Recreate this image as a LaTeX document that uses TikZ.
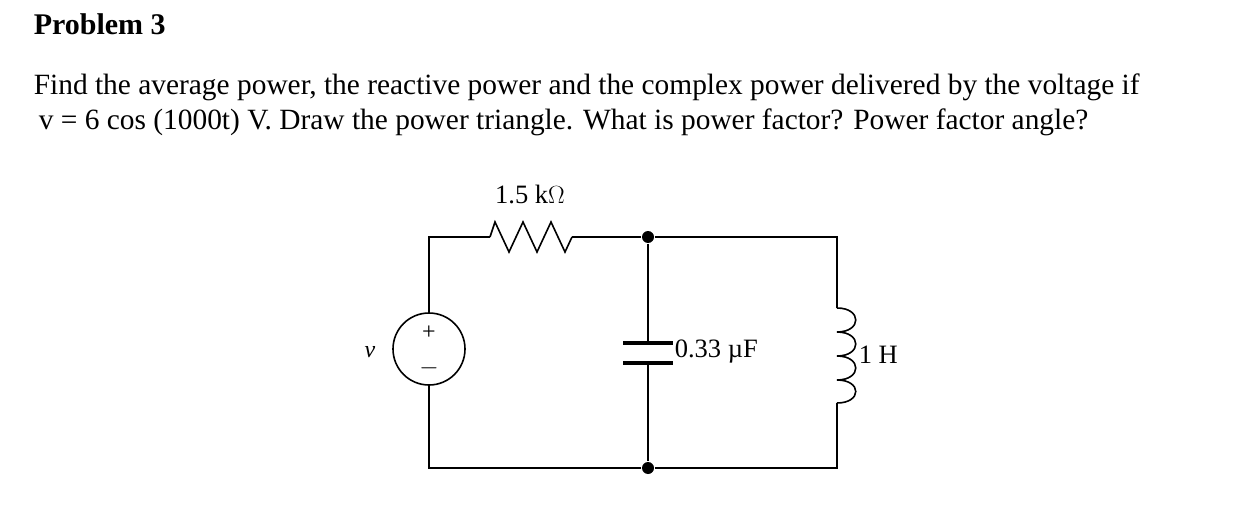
\documentclass[tikz,border=0pt]{standalone}
\usepackage{fontspec}
\setmainfont{Liberation Serif}
\begin{document}
\begin{tikzpicture}[x=1pt,y=-1pt,line width=1.6pt,
  txt/.style={font=\fontsize{29.4}{34}\selectfont,inner sep=0pt},
  lbl/.style={font=\fontsize{26.5}{30}\selectfont,inner sep=0pt},
  dot/.style={circle,fill,inner sep=0pt,minimum size=12pt}]
\useasboundingbox (0,0) rectangle (1240,532);
\fill[white] (0,0) rectangle (1240,532);
\node[txt,anchor=base west,font=\fontsize{30}{34}\selectfont\bfseries] (title) at (33,35) {Problem 3};
\node[txt,anchor=base west] (l1) at (33,95) {Find the average power, the reactive power and the complex power delivered by the voltage if};
\node[txt,anchor=base west] (l2) at (38,130) {v = 6 cos (1000t) V. Draw the power triangle. What is power factor? Power factor angle?};
% nodes
\coordinate (tl) at (429,237);
\coordinate (r1) at (490,237);
\coordinate (r2) at (572,237);
\node[dot] (jt) at (648,237) {};
\coordinate (tr) at (837,237);
\coordinate (bl) at (429,468);
\node[dot] (jb) at (648,468) {};
\coordinate (br) at (837,468);
\node[circle,draw,minimum size=72pt,inner sep=0pt] (src) at (429,349) {};
\node[font=\fontsize{24}{24}\selectfont] at (429,333) {+};
\node[font=\fontsize{24}{24}\selectfont] at (429,368) {$-$};
\node[lbl,font=\fontsize{24}{26}\selectfont\itshape] at (370,352) {v};
\coordinate (c1) at (648,343);
\coordinate (c2) at (648,363);
\coordinate (i1) at (837,308);
\coordinate (i2) at (837,403);
% wires
\draw (src.north) -- (tl) -- (r1);
\draw (r1) -- (495,222) -- (509,252) -- (523,222) -- (537,252) -- (551,222) -- (565,252) -- (r2);
\draw (r2) -- (jt) -- (tr) -- (i1);
\draw (i2) -- (br) -- (jb) -- (bl) -- (src.south);
\draw (jt) -- (c1);
\draw (jb) -- (c2);
\draw[line width=4pt] (623,343) -- (673,343);
\draw[line width=4pt] (623,363) -- (673,363);
\draw (i1) .. controls (862,308) and (862,332) .. (837,332)
  .. controls (862,332) and (862,356) .. (837,356)
  .. controls (862,356) and (862,380) .. (837,380)
  .. controls (862,380) and (862,403) .. (i2);
\node[lbl,anchor=center] at (530,194) {1.5 k$\Omega$};
\node[lbl,anchor=west] at (674,352) {0.33 µF};
\node[lbl,anchor=west] at (858,355) {1 H};
\end{tikzpicture}
\end{document}
